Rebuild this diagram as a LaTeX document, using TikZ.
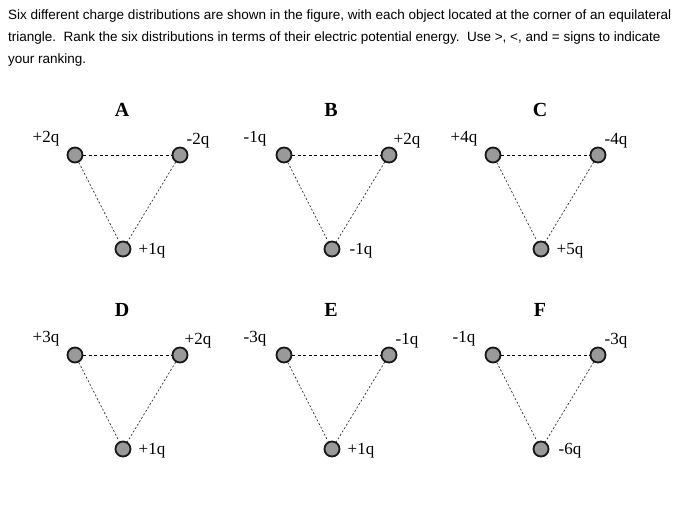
\documentclass[tikz,border=0pt]{standalone}
\usepackage{fontspec}
\setmainfont{Liberation Serif}
\newfontfamily\hdr{Liberation Sans}
\begin{document}
\begin{tikzpicture}[x=1pt,y=-1pt,
  chg/.style={circle,draw=black!90,line width=1.8pt,fill=black!40,minimum size=15pt,inner sep=0pt},
  edge/.style={dash pattern=on 3pt off 2.5pt,line width=0.7pt},
  dedge/.style={dash pattern=on 2pt off 2pt,line width=0.7pt,draw=black!80},
  lbl/.style={font=\fontsize{17}{17}\selectfont,inner sep=0pt},
  ttl/.style={font=\fontsize{20}{20}\selectfont\bfseries,inner sep=0pt}]
\useasboundingbox (0,0) rectangle (694,505);
\node[anchor=north west,inner sep=0pt,align=left,font=\hdr\fontsize{13.5}{22}\selectfont] (hdr) at (8,10)
{Six different charge distributions are shown in the figure, with each object located at the corner of an equilateral\\
triangle.\ \ Rank the six distributions in terms of their electric potential energy.\ \ Use >, <, and = signs to indicate\\
your ranking.};
\foreach \n/\dx/\dy/\t/\l/\r/\b in {a/0/0/A/+2q/-2q/+1q, b/209/0/B/-1q/+2q/-1q, c/418/0/C/+4q/-4q/+5q,
  d/0/200/D/+3q/+2q/+1q, e/209/200/E/-3q/-1q/+1q, f/418/200/F/-1q/-3q/-6q}{
  \begin{scope}[shift={(\dx,\dy)}]
  \node[ttl] (\n t) at (122,110) {\t};
  \node[chg] (\n l) at (75,155) {};
  \node[chg] (\n r) at (180,155) {};
  \node[chg] (\n b) at (123,249) {};
  \draw[edge] (\n l) -- (\n r);
  \draw[dedge] (\n l) -- (\n b);
  \draw[dedge] (\n r) -- (\n b);
  \node[lbl] (\n ll) at (46,139) {\l};
  \node[lbl] (\n rl) at (198,141) {\r};
  \node[lbl] (\n bl) at (152,251) {\b};
  \end{scope}}
\end{tikzpicture}
\end{document}
